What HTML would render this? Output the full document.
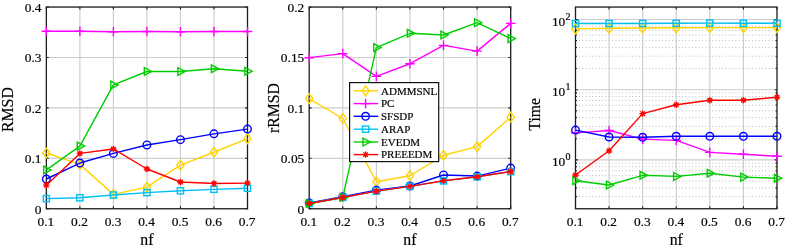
<!DOCTYPE html>
<html><head><meta charset="utf-8"><title>plots</title>
<style>html,body{margin:0;padding:0;background:#fff}svg{display:block}text{stroke:#000;stroke-width:0.18px}</style></head>
<body>
<svg width="785" height="250" viewBox="0 0 785 250" font-family='"Liberation Serif", "DejaVu Serif", serif' fill="#000">
<rect width="785" height="250" fill="#fff"/>
<line x1="79.88" y1="7.05" x2="79.88" y2="208.75" stroke="#cdcdcd" stroke-width="1.15"/>
<line x1="113.40" y1="7.05" x2="113.40" y2="208.75" stroke="#cdcdcd" stroke-width="1.15"/>
<line x1="146.92" y1="7.05" x2="146.92" y2="208.75" stroke="#cdcdcd" stroke-width="1.15"/>
<line x1="180.45" y1="7.05" x2="180.45" y2="208.75" stroke="#cdcdcd" stroke-width="1.15"/>
<line x1="213.97" y1="7.05" x2="213.97" y2="208.75" stroke="#cdcdcd" stroke-width="1.15"/>
<line x1="46.35" y1="158.32" x2="247.5" y2="158.32" stroke="#cdcdcd" stroke-width="1.15"/>
<line x1="46.35" y1="107.90" x2="247.5" y2="107.90" stroke="#cdcdcd" stroke-width="1.15"/>
<line x1="46.35" y1="57.48" x2="247.5" y2="57.48" stroke="#cdcdcd" stroke-width="1.15"/>
<rect x="46.35" y="7.05" width="201.15" height="201.7" fill="none" stroke="#1c1c1c" stroke-width="1.3"/>
<path d="M46.35 208.75v-2.4M46.35 7.05v2.4M79.88 208.75v-2.4M79.88 7.05v2.4M113.40 208.75v-2.4M113.40 7.05v2.4M146.92 208.75v-2.4M146.92 7.05v2.4M180.45 208.75v-2.4M180.45 7.05v2.4M213.97 208.75v-2.4M213.97 7.05v2.4M247.50 208.75v-2.4M247.50 7.05v2.4M46.35 208.75h2.4M247.5 208.75h-2.4M46.35 158.32h2.4M247.5 158.32h-2.4M46.35 107.90h2.4M247.5 107.90h-2.4M46.35 57.48h2.4M247.5 57.48h-2.4M46.35 7.05h2.4M247.5 7.05h-2.4" stroke="#1c1c1c" stroke-width="1.1" fill="none"/>
<text x="46.35" y="225.6" dx="-0.4" text-anchor="middle" font-size="13.4">0.1</text>
<text x="79.88" y="225.6" dx="-0.4" text-anchor="middle" font-size="13.4">0.2</text>
<text x="113.40" y="225.6" dx="-0.4" text-anchor="middle" font-size="13.4">0.3</text>
<text x="146.92" y="225.6" dx="-0.4" text-anchor="middle" font-size="13.4">0.4</text>
<text x="180.45" y="225.6" dx="-0.4" text-anchor="middle" font-size="13.4">0.5</text>
<text x="213.97" y="225.6" dx="-0.4" text-anchor="middle" font-size="13.4">0.6</text>
<text x="247.50" y="225.6" dx="-0.4" text-anchor="middle" font-size="13.4">0.7</text>
<text x="41.45" y="213.55" text-anchor="end" font-size="13.4">0</text>
<text x="41.45" y="163.12" text-anchor="end" font-size="13.4">0.1</text>
<text x="41.45" y="112.70" text-anchor="end" font-size="13.4">0.2</text>
<text x="41.45" y="62.28" text-anchor="end" font-size="13.4">0.3</text>
<text x="41.45" y="11.85" text-anchor="end" font-size="13.4">0.4</text>
<text x="146.93" y="244.5" text-anchor="middle" font-size="15.8">nf</text>
<text transform="translate(13.3 109.6) rotate(-90)" text-anchor="middle" font-size="15.8">RMSD</text>
<polyline points="46.35,153.03 79.88,164.38 113.40,194.38 146.92,187.07 180.45,165.13 213.97,152.27 247.50,138.66" fill="none" stroke="#ffd400" stroke-width="1.4" stroke-linejoin="round"/>
<path d="M42.75 153.03L46.35 148.13L49.95 153.03L46.35 157.93Z" stroke="#ffd400" stroke-width="1.4" fill="none"/>
<path d="M76.28 164.38L79.88 159.48L83.47 164.38L79.88 169.28Z" stroke="#ffd400" stroke-width="1.4" fill="none"/>
<path d="M109.80 194.38L113.40 189.48L117.00 194.38L113.40 199.28Z" stroke="#ffd400" stroke-width="1.4" fill="none"/>
<path d="M143.32 187.07L146.92 182.17L150.52 187.07L146.92 191.97Z" stroke="#ffd400" stroke-width="1.4" fill="none"/>
<path d="M176.85 165.13L180.45 160.23L184.05 165.13L180.45 170.03Z" stroke="#ffd400" stroke-width="1.4" fill="none"/>
<path d="M210.38 152.27L213.97 147.37L217.57 152.27L213.97 157.17Z" stroke="#ffd400" stroke-width="1.4" fill="none"/>
<path d="M243.90 138.66L247.50 133.76L251.10 138.66L247.50 143.56Z" stroke="#ffd400" stroke-width="1.4" fill="none"/>
<polyline points="46.35,31.25 79.88,31.25 113.40,31.76 146.92,31.51 180.45,31.76 213.97,31.51 247.50,31.51" fill="none" stroke="#ff00ff" stroke-width="1.4" stroke-linejoin="round"/>
<path d="M41.55 31.25H51.15M46.35 26.45V36.05" stroke="#ff00ff" stroke-width="1.4" fill="none"/>
<path d="M75.08 31.25H84.67M79.88 26.45V36.05" stroke="#ff00ff" stroke-width="1.4" fill="none"/>
<path d="M108.60 31.76H118.20M113.40 26.96V36.56" stroke="#ff00ff" stroke-width="1.4" fill="none"/>
<path d="M142.12 31.51H151.72M146.92 26.71V36.31" stroke="#ff00ff" stroke-width="1.4" fill="none"/>
<path d="M175.65 31.76H185.25M180.45 26.96V36.56" stroke="#ff00ff" stroke-width="1.4" fill="none"/>
<path d="M209.17 31.51H218.78M213.97 26.71V36.31" stroke="#ff00ff" stroke-width="1.4" fill="none"/>
<path d="M242.70 31.51H252.30M247.50 26.71V36.31" stroke="#ff00ff" stroke-width="1.4" fill="none"/>
<polyline points="46.35,179.00 79.88,163.01 113.40,153.43 146.92,144.96 180.45,139.67 213.97,133.87 247.50,129.08" fill="none" stroke="#0000ff" stroke-width="1.4" stroke-linejoin="round"/>
<circle cx="46.35" cy="179.00" r="3.8" stroke="#0000ff" stroke-width="1.4" fill="none"/>
<circle cx="79.88" cy="163.01" r="3.8" stroke="#0000ff" stroke-width="1.4" fill="none"/>
<circle cx="113.40" cy="153.43" r="3.8" stroke="#0000ff" stroke-width="1.4" fill="none"/>
<circle cx="146.92" cy="144.96" r="3.8" stroke="#0000ff" stroke-width="1.4" fill="none"/>
<circle cx="180.45" cy="139.67" r="3.8" stroke="#0000ff" stroke-width="1.4" fill="none"/>
<circle cx="213.97" cy="133.87" r="3.8" stroke="#0000ff" stroke-width="1.4" fill="none"/>
<circle cx="247.50" cy="129.08" r="3.8" stroke="#0000ff" stroke-width="1.4" fill="none"/>
<polyline points="46.35,198.66 79.88,197.76 113.40,195.03 146.92,192.61 180.45,190.80 213.97,189.34 247.50,188.23" fill="none" stroke="#00c0f2" stroke-width="1.4" stroke-linejoin="round"/>
<rect x="43.25" y="195.56" width="6.2" height="6.2" stroke="#00c0f2" stroke-width="1.4" fill="none"/>
<rect x="76.78" y="194.66" width="6.2" height="6.2" stroke="#00c0f2" stroke-width="1.4" fill="none"/>
<rect x="110.30" y="191.93" width="6.2" height="6.2" stroke="#00c0f2" stroke-width="1.4" fill="none"/>
<rect x="143.82" y="189.51" width="6.2" height="6.2" stroke="#00c0f2" stroke-width="1.4" fill="none"/>
<rect x="177.35" y="187.70" width="6.2" height="6.2" stroke="#00c0f2" stroke-width="1.4" fill="none"/>
<rect x="210.88" y="186.24" width="6.2" height="6.2" stroke="#00c0f2" stroke-width="1.4" fill="none"/>
<rect x="244.40" y="185.13" width="6.2" height="6.2" stroke="#00c0f2" stroke-width="1.4" fill="none"/>
<polyline points="46.35,169.92 79.88,146.07 113.40,84.96 146.92,71.49 180.45,71.49 213.97,68.77 247.50,71.24" fill="none" stroke="#00cd00" stroke-width="1.4" stroke-linejoin="round"/>
<path d="M43.75 166.02L51.05 169.92L43.75 173.82Z" stroke="#00cd00" stroke-width="1.4" fill="none" stroke-linejoin="miter"/>
<path d="M77.28 142.17L84.58 146.07L77.28 149.97Z" stroke="#00cd00" stroke-width="1.4" fill="none" stroke-linejoin="miter"/>
<path d="M110.80 81.06L118.10 84.96L110.80 88.86Z" stroke="#00cd00" stroke-width="1.4" fill="none" stroke-linejoin="miter"/>
<path d="M144.32 67.59L151.62 71.49L144.32 75.39Z" stroke="#00cd00" stroke-width="1.4" fill="none" stroke-linejoin="miter"/>
<path d="M177.85 67.59L185.15 71.49L177.85 75.39Z" stroke="#00cd00" stroke-width="1.4" fill="none" stroke-linejoin="miter"/>
<path d="M211.38 64.87L218.67 68.77L211.38 72.67Z" stroke="#00cd00" stroke-width="1.4" fill="none" stroke-linejoin="miter"/>
<path d="M244.90 67.34L252.20 71.24L244.90 75.14Z" stroke="#00cd00" stroke-width="1.4" fill="none" stroke-linejoin="miter"/>
<polyline points="46.35,185.20 79.88,153.43 113.40,148.95 146.92,169.02 180.45,182.02 213.97,183.44 247.50,183.08" fill="none" stroke="#ff0000" stroke-width="1.4" stroke-linejoin="round"/>
<path d="M43.15 185.20H49.55M46.35 182.00V188.40M44.09 182.94L48.61 187.46M44.09 187.46L48.61 182.94" stroke="#ff0000" stroke-width="1.3" fill="none"/>
<path d="M76.67 153.43H83.08M79.88 150.23V156.63M77.61 151.17L82.14 155.70M77.61 155.70L82.14 151.17" stroke="#ff0000" stroke-width="1.3" fill="none"/>
<path d="M110.20 148.95H116.60M113.40 145.75V152.15M111.14 146.68L115.66 151.21M111.14 151.21L115.66 146.68" stroke="#ff0000" stroke-width="1.3" fill="none"/>
<path d="M143.72 169.02H150.12M146.92 165.82V172.22M144.66 166.75L149.19 171.28M144.66 171.28L149.19 166.75" stroke="#ff0000" stroke-width="1.3" fill="none"/>
<path d="M177.25 182.02H183.65M180.45 178.82V185.22M178.19 179.76L182.71 184.29M178.19 184.29L182.71 179.76" stroke="#ff0000" stroke-width="1.3" fill="none"/>
<path d="M210.78 183.44H217.17M213.97 180.24V186.64M211.71 181.17L216.24 185.70M211.71 185.70L216.24 181.17" stroke="#ff0000" stroke-width="1.3" fill="none"/>
<path d="M244.30 183.08H250.70M247.50 179.88V186.28M245.24 180.82L249.76 185.35M245.24 185.35L249.76 180.82" stroke="#ff0000" stroke-width="1.3" fill="none"/>
<line x1="342.78" y1="7.05" x2="342.78" y2="208.75" stroke="#cdcdcd" stroke-width="1.15"/>
<line x1="376.37" y1="7.05" x2="376.37" y2="208.75" stroke="#cdcdcd" stroke-width="1.15"/>
<line x1="409.95" y1="7.05" x2="409.95" y2="208.75" stroke="#cdcdcd" stroke-width="1.15"/>
<line x1="443.53" y1="7.05" x2="443.53" y2="208.75" stroke="#cdcdcd" stroke-width="1.15"/>
<line x1="477.12" y1="7.05" x2="477.12" y2="208.75" stroke="#cdcdcd" stroke-width="1.15"/>
<line x1="309.2" y1="158.32" x2="510.7" y2="158.32" stroke="#cdcdcd" stroke-width="1.15"/>
<line x1="309.2" y1="107.90" x2="510.7" y2="107.90" stroke="#cdcdcd" stroke-width="1.15"/>
<line x1="309.2" y1="57.48" x2="510.7" y2="57.48" stroke="#cdcdcd" stroke-width="1.15"/>
<rect x="309.2" y="7.05" width="201.5" height="201.7" fill="none" stroke="#1c1c1c" stroke-width="1.3"/>
<path d="M309.20 208.75v-2.4M309.20 7.05v2.4M342.78 208.75v-2.4M342.78 7.05v2.4M376.37 208.75v-2.4M376.37 7.05v2.4M409.95 208.75v-2.4M409.95 7.05v2.4M443.53 208.75v-2.4M443.53 7.05v2.4M477.12 208.75v-2.4M477.12 7.05v2.4M510.70 208.75v-2.4M510.70 7.05v2.4M309.2 208.75h2.4M510.7 208.75h-2.4M309.2 158.32h2.4M510.7 158.32h-2.4M309.2 107.90h2.4M510.7 107.90h-2.4M309.2 57.48h2.4M510.7 57.48h-2.4M309.2 7.05h2.4M510.7 7.05h-2.4" stroke="#1c1c1c" stroke-width="1.1" fill="none"/>
<text x="309.20" y="225.6" dx="-0.4" text-anchor="middle" font-size="13.4">0.1</text>
<text x="342.78" y="225.6" dx="-0.4" text-anchor="middle" font-size="13.4">0.2</text>
<text x="376.37" y="225.6" dx="-0.4" text-anchor="middle" font-size="13.4">0.3</text>
<text x="409.95" y="225.6" dx="-0.4" text-anchor="middle" font-size="13.4">0.4</text>
<text x="443.53" y="225.6" dx="-0.4" text-anchor="middle" font-size="13.4">0.5</text>
<text x="477.12" y="225.6" dx="-0.4" text-anchor="middle" font-size="13.4">0.6</text>
<text x="510.70" y="225.6" dx="-0.4" text-anchor="middle" font-size="13.4">0.7</text>
<text x="304.30" y="213.55" text-anchor="end" font-size="13.4">0</text>
<text x="304.30" y="163.12" text-anchor="end" font-size="13.4">0.05</text>
<text x="304.30" y="112.70" text-anchor="end" font-size="13.4">0.1</text>
<text x="304.30" y="62.28" text-anchor="end" font-size="13.4">0.15</text>
<text x="304.30" y="11.85" text-anchor="end" font-size="13.4">0.2</text>
<text x="409.95" y="244.5" text-anchor="middle" font-size="15.8">nf</text>
<text transform="translate(279.1 108) rotate(-90)" text-anchor="middle" font-size="15.8">rRMSD</text>
<polyline points="309.20,98.62 342.78,118.49 376.37,181.72 409.95,175.77 443.53,155.30 477.12,146.63 510.70,117.18" fill="none" stroke="#ffd400" stroke-width="1.4" stroke-linejoin="round"/>
<path d="M305.60 98.62L309.20 93.72L312.80 98.62L309.20 103.52Z" stroke="#ffd400" stroke-width="1.4" fill="none"/>
<path d="M339.18 118.49L342.78 113.59L346.38 118.49L342.78 123.39Z" stroke="#ffd400" stroke-width="1.4" fill="none"/>
<path d="M372.77 181.72L376.37 176.82L379.97 181.72L376.37 186.62Z" stroke="#ffd400" stroke-width="1.4" fill="none"/>
<path d="M406.35 175.77L409.95 170.87L413.55 175.77L409.95 180.67Z" stroke="#ffd400" stroke-width="1.4" fill="none"/>
<path d="M439.93 155.30L443.53 150.40L447.13 155.30L443.53 160.20Z" stroke="#ffd400" stroke-width="1.4" fill="none"/>
<path d="M473.52 146.63L477.12 141.73L480.72 146.63L477.12 151.53Z" stroke="#ffd400" stroke-width="1.4" fill="none"/>
<path d="M507.10 117.18L510.70 112.28L514.30 117.18L510.70 122.08Z" stroke="#ffd400" stroke-width="1.4" fill="none"/>
<polyline points="309.20,57.68 342.78,53.64 376.37,76.33 409.95,63.73 443.53,45.37 477.12,51.12 510.70,23.39" fill="none" stroke="#ff00ff" stroke-width="1.4" stroke-linejoin="round"/>
<path d="M304.40 57.68H314.00M309.20 52.88V62.48" stroke="#ff00ff" stroke-width="1.4" fill="none"/>
<path d="M337.98 53.64H347.58M342.78 48.84V58.44" stroke="#ff00ff" stroke-width="1.4" fill="none"/>
<path d="M371.57 76.33H381.17M376.37 71.53V81.13" stroke="#ff00ff" stroke-width="1.4" fill="none"/>
<path d="M405.15 63.73H414.75M409.95 58.93V68.53" stroke="#ff00ff" stroke-width="1.4" fill="none"/>
<path d="M438.73 45.37H448.33M443.53 40.57V50.17" stroke="#ff00ff" stroke-width="1.4" fill="none"/>
<path d="M472.32 51.12H481.92M477.12 46.32V55.92" stroke="#ff00ff" stroke-width="1.4" fill="none"/>
<path d="M505.90 23.39H515.50M510.70 18.59V28.19" stroke="#ff00ff" stroke-width="1.4" fill="none"/>
<polyline points="309.20,202.90 342.78,196.75 376.37,190.29 409.95,185.96 443.53,174.97 477.12,176.07 510.70,168.11" fill="none" stroke="#0000ff" stroke-width="1.4" stroke-linejoin="round"/>
<circle cx="309.20" cy="202.90" r="3.8" stroke="#0000ff" stroke-width="1.4" fill="none"/>
<circle cx="342.78" cy="196.75" r="3.8" stroke="#0000ff" stroke-width="1.4" fill="none"/>
<circle cx="376.37" cy="190.29" r="3.8" stroke="#0000ff" stroke-width="1.4" fill="none"/>
<circle cx="409.95" cy="185.96" r="3.8" stroke="#0000ff" stroke-width="1.4" fill="none"/>
<circle cx="443.53" cy="174.97" r="3.8" stroke="#0000ff" stroke-width="1.4" fill="none"/>
<circle cx="477.12" cy="176.07" r="3.8" stroke="#0000ff" stroke-width="1.4" fill="none"/>
<circle cx="510.70" cy="168.11" r="3.8" stroke="#0000ff" stroke-width="1.4" fill="none"/>
<polyline points="309.20,203.51 342.78,197.45 376.37,191.10 409.95,186.36 443.53,180.92 477.12,176.78 510.70,171.64" fill="none" stroke="#00c0f2" stroke-width="1.4" stroke-linejoin="round"/>
<rect x="306.10" y="200.41" width="6.2" height="6.2" stroke="#00c0f2" stroke-width="1.4" fill="none"/>
<rect x="339.68" y="194.35" width="6.2" height="6.2" stroke="#00c0f2" stroke-width="1.4" fill="none"/>
<rect x="373.27" y="188.00" width="6.2" height="6.2" stroke="#00c0f2" stroke-width="1.4" fill="none"/>
<rect x="406.85" y="183.26" width="6.2" height="6.2" stroke="#00c0f2" stroke-width="1.4" fill="none"/>
<rect x="440.43" y="177.82" width="6.2" height="6.2" stroke="#00c0f2" stroke-width="1.4" fill="none"/>
<rect x="474.02" y="173.68" width="6.2" height="6.2" stroke="#00c0f2" stroke-width="1.4" fill="none"/>
<rect x="507.60" y="168.54" width="6.2" height="6.2" stroke="#00c0f2" stroke-width="1.4" fill="none"/>
<polyline points="309.20,203.40 342.78,197.45 376.37,47.59 409.95,33.27 443.53,34.99 477.12,22.68 510.70,38.62" fill="none" stroke="#00cd00" stroke-width="1.4" stroke-linejoin="round"/>
<path d="M306.60 199.50L313.90 203.40L306.60 207.30Z" stroke="#00cd00" stroke-width="1.4" fill="none" stroke-linejoin="miter"/>
<path d="M340.18 193.55L347.48 197.45L340.18 201.35Z" stroke="#00cd00" stroke-width="1.4" fill="none" stroke-linejoin="miter"/>
<path d="M373.77 43.69L381.07 47.59L373.77 51.49Z" stroke="#00cd00" stroke-width="1.4" fill="none" stroke-linejoin="miter"/>
<path d="M407.35 29.37L414.65 33.27L407.35 37.17Z" stroke="#00cd00" stroke-width="1.4" fill="none" stroke-linejoin="miter"/>
<path d="M440.93 31.09L448.23 34.99L440.93 38.89Z" stroke="#00cd00" stroke-width="1.4" fill="none" stroke-linejoin="miter"/>
<path d="M474.52 18.78L481.82 22.68L474.52 26.58Z" stroke="#00cd00" stroke-width="1.4" fill="none" stroke-linejoin="miter"/>
<path d="M508.10 34.72L515.40 38.62L508.10 42.52Z" stroke="#00cd00" stroke-width="1.4" fill="none" stroke-linejoin="miter"/>
<polyline points="309.20,203.51 342.78,197.45 376.37,191.10 409.95,186.36 443.53,180.71 477.12,176.78 510.70,171.44" fill="none" stroke="#ff0000" stroke-width="1.4" stroke-linejoin="round"/>
<path d="M306.00 203.51H312.40M309.20 200.31V206.71M306.94 201.24L311.46 205.77M306.94 205.77L311.46 201.24" stroke="#ff0000" stroke-width="1.3" fill="none"/>
<path d="M339.58 197.45H345.98M342.78 194.25V200.65M340.52 195.19L345.05 199.72M340.52 199.72L345.05 195.19" stroke="#ff0000" stroke-width="1.3" fill="none"/>
<path d="M373.17 191.10H379.57M376.37 187.90V194.30M374.10 188.84L378.63 193.36M374.10 193.36L378.63 188.84" stroke="#ff0000" stroke-width="1.3" fill="none"/>
<path d="M406.75 186.36H413.15M409.95 183.16V189.56M407.69 184.10L412.21 188.62M407.69 188.62L412.21 184.10" stroke="#ff0000" stroke-width="1.3" fill="none"/>
<path d="M440.33 180.71H446.73M443.53 177.51V183.91M441.27 178.45L445.80 182.98M441.27 182.98L445.80 178.45" stroke="#ff0000" stroke-width="1.3" fill="none"/>
<path d="M473.92 176.78H480.32M477.12 173.58V179.98M474.85 174.52L479.38 179.04M474.85 179.04L479.38 174.52" stroke="#ff0000" stroke-width="1.3" fill="none"/>
<path d="M507.50 171.44H513.90M510.70 168.24V174.64M508.44 169.17L512.96 173.70M508.44 173.70L512.96 169.17" stroke="#ff0000" stroke-width="1.3" fill="none"/>
<rect x="349.6" y="82.6" width="89.1" height="79.0" fill="#fff" stroke="#111" stroke-width="1.2"/>
<line x1="353.6" y1="90.8" x2="378.2" y2="90.8" stroke="#ffd400" stroke-width="1.4"/>
<path d="M362.00 90.80L365.60 85.90L369.20 90.80L365.60 95.70Z" stroke="#ffd400" stroke-width="1.4" fill="none"/>
<text x="381" y="94.60" font-size="11">ADMMSNL</text>
<line x1="353.6" y1="103.6" x2="378.2" y2="103.6" stroke="#ff00ff" stroke-width="1.4"/>
<path d="M360.80 103.60H370.40M365.60 98.80V108.40" stroke="#ff00ff" stroke-width="1.4" fill="none"/>
<text x="381" y="107.40" font-size="11">PC</text>
<line x1="353.6" y1="116.3" x2="378.2" y2="116.3" stroke="#0000ff" stroke-width="1.4"/>
<circle cx="365.60" cy="116.30" r="3.8" stroke="#0000ff" stroke-width="1.4" fill="none"/>
<text x="381" y="120.10" font-size="11">SFSDP</text>
<line x1="353.6" y1="129.2" x2="378.2" y2="129.2" stroke="#00c0f2" stroke-width="1.4"/>
<rect x="362.50" y="126.10" width="6.2" height="6.2" stroke="#00c0f2" stroke-width="1.4" fill="none"/>
<text x="381" y="133.00" font-size="11">ARAP</text>
<line x1="353.6" y1="142.0" x2="378.2" y2="142.0" stroke="#00cd00" stroke-width="1.4"/>
<path d="M363.00 138.10L370.30 142.00L363.00 145.90Z" stroke="#00cd00" stroke-width="1.4" fill="none" stroke-linejoin="miter"/>
<text x="381" y="145.80" font-size="11">EVEDM</text>
<line x1="353.6" y1="154.6" x2="378.2" y2="154.6" stroke="#ff0000" stroke-width="1.4"/>
<path d="M362.40 154.60H368.80M365.60 151.40V157.80M363.34 152.34L367.86 156.86M363.34 156.86L367.86 152.34" stroke="#ff0000" stroke-width="1.3" fill="none"/>
<text x="381" y="158.40" font-size="11">PREEEDM</text>
<line x1="609.08" y1="7.05" x2="609.08" y2="208.75" stroke="#cdcdcd" stroke-width="1.15"/>
<line x1="642.67" y1="7.05" x2="642.67" y2="208.75" stroke="#cdcdcd" stroke-width="1.15"/>
<line x1="676.25" y1="7.05" x2="676.25" y2="208.75" stroke="#cdcdcd" stroke-width="1.15"/>
<line x1="709.83" y1="7.05" x2="709.83" y2="208.75" stroke="#cdcdcd" stroke-width="1.15"/>
<line x1="743.42" y1="7.05" x2="743.42" y2="208.75" stroke="#cdcdcd" stroke-width="1.15"/>
<line x1="575.5" y1="19.50" x2="777.0" y2="19.50" stroke="#cdcdcd" stroke-width="1.15"/>
<line x1="575.5" y1="89.70" x2="777.0" y2="89.70" stroke="#cdcdcd" stroke-width="1.15"/>
<line x1="575.5" y1="159.90" x2="777.0" y2="159.90" stroke="#cdcdcd" stroke-width="1.15"/>
<line x1="575.5" y1="196.61" x2="777.0" y2="196.61" stroke="#bcbcbc" stroke-width="1" stroke-dasharray="1 2.33"/>
<line x1="575.5" y1="187.84" x2="777.0" y2="187.84" stroke="#bcbcbc" stroke-width="1" stroke-dasharray="1 2.33"/>
<line x1="575.5" y1="181.03" x2="777.0" y2="181.03" stroke="#bcbcbc" stroke-width="1" stroke-dasharray="1 2.33"/>
<line x1="575.5" y1="175.47" x2="777.0" y2="175.47" stroke="#bcbcbc" stroke-width="1" stroke-dasharray="1 2.33"/>
<line x1="575.5" y1="170.77" x2="777.0" y2="170.77" stroke="#bcbcbc" stroke-width="1" stroke-dasharray="1 2.33"/>
<line x1="575.5" y1="166.70" x2="777.0" y2="166.70" stroke="#bcbcbc" stroke-width="1" stroke-dasharray="1 2.33"/>
<line x1="575.5" y1="163.11" x2="777.0" y2="163.11" stroke="#bcbcbc" stroke-width="1" stroke-dasharray="1 2.33"/>
<line x1="575.5" y1="138.77" x2="777.0" y2="138.77" stroke="#bcbcbc" stroke-width="1" stroke-dasharray="1 2.33"/>
<line x1="575.5" y1="126.41" x2="777.0" y2="126.41" stroke="#bcbcbc" stroke-width="1" stroke-dasharray="1 2.33"/>
<line x1="575.5" y1="117.64" x2="777.0" y2="117.64" stroke="#bcbcbc" stroke-width="1" stroke-dasharray="1 2.33"/>
<line x1="575.5" y1="110.83" x2="777.0" y2="110.83" stroke="#bcbcbc" stroke-width="1" stroke-dasharray="1 2.33"/>
<line x1="575.5" y1="105.27" x2="777.0" y2="105.27" stroke="#bcbcbc" stroke-width="1" stroke-dasharray="1 2.33"/>
<line x1="575.5" y1="100.57" x2="777.0" y2="100.57" stroke="#bcbcbc" stroke-width="1" stroke-dasharray="1 2.33"/>
<line x1="575.5" y1="96.50" x2="777.0" y2="96.50" stroke="#bcbcbc" stroke-width="1" stroke-dasharray="1 2.33"/>
<line x1="575.5" y1="92.91" x2="777.0" y2="92.91" stroke="#bcbcbc" stroke-width="1" stroke-dasharray="1 2.33"/>
<line x1="575.5" y1="68.57" x2="777.0" y2="68.57" stroke="#bcbcbc" stroke-width="1" stroke-dasharray="1 2.33"/>
<line x1="575.5" y1="56.21" x2="777.0" y2="56.21" stroke="#bcbcbc" stroke-width="1" stroke-dasharray="1 2.33"/>
<line x1="575.5" y1="47.44" x2="777.0" y2="47.44" stroke="#bcbcbc" stroke-width="1" stroke-dasharray="1 2.33"/>
<line x1="575.5" y1="40.63" x2="777.0" y2="40.63" stroke="#bcbcbc" stroke-width="1" stroke-dasharray="1 2.33"/>
<line x1="575.5" y1="35.07" x2="777.0" y2="35.07" stroke="#bcbcbc" stroke-width="1" stroke-dasharray="1 2.33"/>
<line x1="575.5" y1="30.37" x2="777.0" y2="30.37" stroke="#bcbcbc" stroke-width="1" stroke-dasharray="1 2.33"/>
<line x1="575.5" y1="26.30" x2="777.0" y2="26.30" stroke="#bcbcbc" stroke-width="1" stroke-dasharray="1 2.33"/>
<line x1="575.5" y1="22.71" x2="777.0" y2="22.71" stroke="#bcbcbc" stroke-width="1" stroke-dasharray="1 2.33"/>
<rect x="575.5" y="7.05" width="201.5" height="201.7" fill="none" stroke="#1c1c1c" stroke-width="1.3"/>
<path d="M575.50 208.75v-2.4M575.50 7.05v2.4M609.08 208.75v-2.4M609.08 7.05v2.4M642.67 208.75v-2.4M642.67 7.05v2.4M676.25 208.75v-2.4M676.25 7.05v2.4M709.83 208.75v-2.4M709.83 7.05v2.4M743.42 208.75v-2.4M743.42 7.05v2.4M777.00 208.75v-2.4M777.00 7.05v2.4M575.5 19.50h2.4M777.0 19.50h-2.4M575.5 89.70h2.4M777.0 89.70h-2.4M575.5 159.90h2.4M777.0 159.90h-2.4M575.5 196.61h1.4M777.0 196.61h-1.4M575.5 187.84h1.4M777.0 187.84h-1.4M575.5 181.03h1.4M777.0 181.03h-1.4M575.5 175.47h1.4M777.0 175.47h-1.4M575.5 170.77h1.4M777.0 170.77h-1.4M575.5 166.70h1.4M777.0 166.70h-1.4M575.5 163.11h1.4M777.0 163.11h-1.4M575.5 138.77h1.4M777.0 138.77h-1.4M575.5 126.41h1.4M777.0 126.41h-1.4M575.5 117.64h1.4M777.0 117.64h-1.4M575.5 110.83h1.4M777.0 110.83h-1.4M575.5 105.27h1.4M777.0 105.27h-1.4M575.5 100.57h1.4M777.0 100.57h-1.4M575.5 96.50h1.4M777.0 96.50h-1.4M575.5 92.91h1.4M777.0 92.91h-1.4M575.5 68.57h1.4M777.0 68.57h-1.4M575.5 56.21h1.4M777.0 56.21h-1.4M575.5 47.44h1.4M777.0 47.44h-1.4M575.5 40.63h1.4M777.0 40.63h-1.4M575.5 35.07h1.4M777.0 35.07h-1.4M575.5 30.37h1.4M777.0 30.37h-1.4M575.5 26.30h1.4M777.0 26.30h-1.4M575.5 22.71h1.4M777.0 22.71h-1.4" stroke="#1c1c1c" stroke-width="1.1" fill="none"/>
<text x="575.50" y="225.6" dx="-0.4" text-anchor="middle" font-size="13.4">0.1</text>
<text x="609.08" y="225.6" dx="-0.4" text-anchor="middle" font-size="13.4">0.2</text>
<text x="642.67" y="225.6" dx="-0.4" text-anchor="middle" font-size="13.4">0.3</text>
<text x="676.25" y="225.6" dx="-0.4" text-anchor="middle" font-size="13.4">0.4</text>
<text x="709.83" y="225.6" dx="-0.4" text-anchor="middle" font-size="13.4">0.5</text>
<text x="743.42" y="225.6" dx="-0.4" text-anchor="middle" font-size="13.4">0.6</text>
<text x="777.00" y="225.6" dx="-0.4" text-anchor="middle" font-size="13.4">0.7</text>
<text x="565.30" y="25.60" text-anchor="end" font-size="13.4">10</text><text x="565.60" y="19.60" font-size="10">2</text>
<text x="565.30" y="95.80" text-anchor="end" font-size="13.4">10</text><text x="565.60" y="89.80" font-size="10">1</text>
<text x="565.30" y="166.00" text-anchor="end" font-size="13.4">10</text><text x="565.60" y="160.00" font-size="10">0</text>
<text x="676.25" y="244.5" text-anchor="middle" font-size="15.8">nf</text>
<text transform="translate(540.1 114.3) rotate(-90)" text-anchor="middle" font-size="15.8">Time</text>
<polyline points="575.50,28.90 609.08,28.20 642.67,28.00 676.25,27.80 709.83,27.60 743.42,27.60 777.00,27.60" fill="none" stroke="#ffd400" stroke-width="1.4" stroke-linejoin="round"/>
<path d="M571.90 28.90L575.50 24.00L579.10 28.90L575.50 33.80Z" stroke="#ffd400" stroke-width="1.4" fill="none"/>
<path d="M605.48 28.20L609.08 23.30L612.68 28.20L609.08 33.10Z" stroke="#ffd400" stroke-width="1.4" fill="none"/>
<path d="M639.07 28.00L642.67 23.10L646.27 28.00L642.67 32.90Z" stroke="#ffd400" stroke-width="1.4" fill="none"/>
<path d="M672.65 27.80L676.25 22.90L679.85 27.80L676.25 32.70Z" stroke="#ffd400" stroke-width="1.4" fill="none"/>
<path d="M706.23 27.60L709.83 22.70L713.43 27.60L709.83 32.50Z" stroke="#ffd400" stroke-width="1.4" fill="none"/>
<path d="M739.82 27.60L743.42 22.70L747.02 27.60L743.42 32.50Z" stroke="#ffd400" stroke-width="1.4" fill="none"/>
<path d="M773.40 27.60L777.00 22.70L780.60 27.60L777.00 32.50Z" stroke="#ffd400" stroke-width="1.4" fill="none"/>
<polyline points="575.50,132.90 609.08,130.50 642.67,139.10 676.25,140.40 709.83,152.40 743.42,154.20 777.00,156.30" fill="none" stroke="#ff00ff" stroke-width="1.4" stroke-linejoin="round"/>
<path d="M570.70 132.90H580.30M575.50 128.10V137.70" stroke="#ff00ff" stroke-width="1.4" fill="none"/>
<path d="M604.28 130.50H613.88M609.08 125.70V135.30" stroke="#ff00ff" stroke-width="1.4" fill="none"/>
<path d="M637.87 139.10H647.47M642.67 134.30V143.90" stroke="#ff00ff" stroke-width="1.4" fill="none"/>
<path d="M671.45 140.40H681.05M676.25 135.60V145.20" stroke="#ff00ff" stroke-width="1.4" fill="none"/>
<path d="M705.03 152.40H714.63M709.83 147.60V157.20" stroke="#ff00ff" stroke-width="1.4" fill="none"/>
<path d="M738.62 154.20H748.22M743.42 149.40V159.00" stroke="#ff00ff" stroke-width="1.4" fill="none"/>
<path d="M772.20 156.30H781.80M777.00 151.50V161.10" stroke="#ff00ff" stroke-width="1.4" fill="none"/>
<polyline points="575.50,130.10 609.08,137.00 642.67,137.30 676.25,136.30 709.83,136.30 743.42,136.30 777.00,136.30" fill="none" stroke="#0000ff" stroke-width="1.4" stroke-linejoin="round"/>
<circle cx="575.50" cy="130.10" r="3.8" stroke="#0000ff" stroke-width="1.4" fill="none"/>
<circle cx="609.08" cy="137.00" r="3.8" stroke="#0000ff" stroke-width="1.4" fill="none"/>
<circle cx="642.67" cy="137.30" r="3.8" stroke="#0000ff" stroke-width="1.4" fill="none"/>
<circle cx="676.25" cy="136.30" r="3.8" stroke="#0000ff" stroke-width="1.4" fill="none"/>
<circle cx="709.83" cy="136.30" r="3.8" stroke="#0000ff" stroke-width="1.4" fill="none"/>
<circle cx="743.42" cy="136.30" r="3.8" stroke="#0000ff" stroke-width="1.4" fill="none"/>
<circle cx="777.00" cy="136.30" r="3.8" stroke="#0000ff" stroke-width="1.4" fill="none"/>
<polyline points="575.50,23.50 609.08,23.50 642.67,23.50 676.25,23.30 709.83,23.10 743.42,23.30 777.00,23.30" fill="none" stroke="#00c0f2" stroke-width="1.4" stroke-linejoin="round"/>
<rect x="572.40" y="20.40" width="6.2" height="6.2" stroke="#00c0f2" stroke-width="1.4" fill="none"/>
<rect x="605.98" y="20.40" width="6.2" height="6.2" stroke="#00c0f2" stroke-width="1.4" fill="none"/>
<rect x="639.57" y="20.40" width="6.2" height="6.2" stroke="#00c0f2" stroke-width="1.4" fill="none"/>
<rect x="673.15" y="20.20" width="6.2" height="6.2" stroke="#00c0f2" stroke-width="1.4" fill="none"/>
<rect x="706.73" y="20.00" width="6.2" height="6.2" stroke="#00c0f2" stroke-width="1.4" fill="none"/>
<rect x="740.32" y="20.20" width="6.2" height="6.2" stroke="#00c0f2" stroke-width="1.4" fill="none"/>
<rect x="773.90" y="20.20" width="6.2" height="6.2" stroke="#00c0f2" stroke-width="1.4" fill="none"/>
<polyline points="575.50,180.70 609.08,185.00 642.67,175.30 676.25,176.40 709.83,173.20 743.42,177.10 777.00,178.20" fill="none" stroke="#00cd00" stroke-width="1.4" stroke-linejoin="round"/>
<path d="M572.90 176.80L580.20 180.70L572.90 184.60Z" stroke="#00cd00" stroke-width="1.4" fill="none" stroke-linejoin="miter"/>
<path d="M606.48 181.10L613.78 185.00L606.48 188.90Z" stroke="#00cd00" stroke-width="1.4" fill="none" stroke-linejoin="miter"/>
<path d="M640.07 171.40L647.37 175.30L640.07 179.20Z" stroke="#00cd00" stroke-width="1.4" fill="none" stroke-linejoin="miter"/>
<path d="M673.65 172.50L680.95 176.40L673.65 180.30Z" stroke="#00cd00" stroke-width="1.4" fill="none" stroke-linejoin="miter"/>
<path d="M707.23 169.30L714.53 173.20L707.23 177.10Z" stroke="#00cd00" stroke-width="1.4" fill="none" stroke-linejoin="miter"/>
<path d="M740.82 173.20L748.12 177.10L740.82 181.00Z" stroke="#00cd00" stroke-width="1.4" fill="none" stroke-linejoin="miter"/>
<path d="M774.40 174.30L781.70 178.20L774.40 182.10Z" stroke="#00cd00" stroke-width="1.4" fill="none" stroke-linejoin="miter"/>
<polyline points="575.50,175.00 609.08,150.80 642.67,113.60 676.25,104.70 709.83,100.20 743.42,100.20 777.00,97.30" fill="none" stroke="#ff0000" stroke-width="1.4" stroke-linejoin="round"/>
<path d="M572.30 175.00H578.70M575.50 171.80V178.20M573.24 172.74L577.76 177.26M573.24 177.26L577.76 172.74" stroke="#ff0000" stroke-width="1.3" fill="none"/>
<path d="M605.88 150.80H612.28M609.08 147.60V154.00M606.82 148.54L611.35 153.06M606.82 153.06L611.35 148.54" stroke="#ff0000" stroke-width="1.3" fill="none"/>
<path d="M639.47 113.60H645.87M642.67 110.40V116.80M640.40 111.34L644.93 115.86M640.40 115.86L644.93 111.34" stroke="#ff0000" stroke-width="1.3" fill="none"/>
<path d="M673.05 104.70H679.45M676.25 101.50V107.90M673.99 102.44L678.51 106.96M673.99 106.96L678.51 102.44" stroke="#ff0000" stroke-width="1.3" fill="none"/>
<path d="M706.63 100.20H713.03M709.83 97.00V103.40M707.57 97.94L712.10 102.46M707.57 102.46L712.10 97.94" stroke="#ff0000" stroke-width="1.3" fill="none"/>
<path d="M740.22 100.20H746.62M743.42 97.00V103.40M741.15 97.94L745.68 102.46M741.15 102.46L745.68 97.94" stroke="#ff0000" stroke-width="1.3" fill="none"/>
<path d="M773.80 97.30H780.20M777.00 94.10V100.50M774.74 95.04L779.26 99.56M774.74 99.56L779.26 95.04" stroke="#ff0000" stroke-width="1.3" fill="none"/>
</svg>
</body></html>
